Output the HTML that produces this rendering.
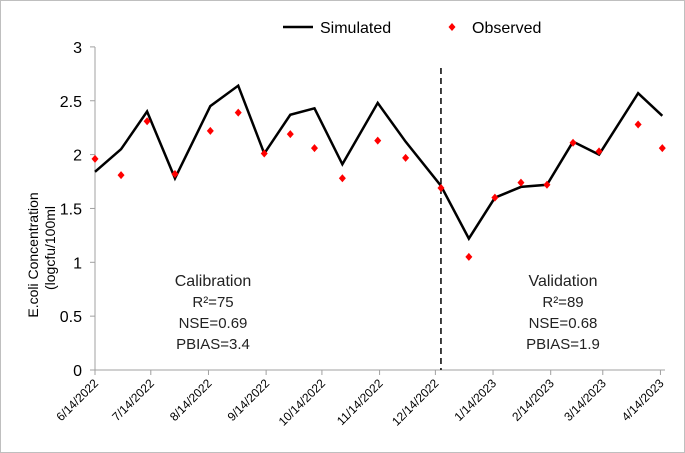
<!DOCTYPE html>
<html><head><meta charset="utf-8"><style>
body{margin:0;background:#fff;}
svg{display:block;font-family:"Liberation Sans",sans-serif;}
</style></head><body>
<svg id="c" width="685" height="453">
<rect x="0.5" y="0.5" width="684" height="452" fill="#fff" stroke="#bfbfbf"/>
</svg>
<script>
const dates=["2022-06-14","2022-06-28","2022-07-12","2022-07-27","2022-08-15","2022-08-30","2022-09-13","2022-09-27","2022-10-10","2022-10-25","2022-11-13","2022-11-28","2022-12-17","2023-01-01","2023-01-15","2023-01-29","2023-02-12","2023-02-26","2023-03-12","2023-04-02","2023-04-15"];
const simulated=[1.84,2.05,2.40,1.78,2.45,2.64,2.01,2.37,2.43,1.91,2.48,2.12,1.71,1.22,1.60,1.70,1.72,2.12,2.00,2.57,2.36];
const observed=[1.96,1.81,2.31,1.82,2.22,2.39,2.01,2.19,2.06,1.78,2.13,1.97,1.69,1.05,1.60,1.74,1.72,2.11,2.03,2.28,2.06];
const yTicks=[0,0.5,1,1.5,2,2.5,3];
const xTicks=["2022-06-14","2022-07-14","2022-08-14","2022-09-14","2022-10-14","2022-11-14","2022-12-14","2023-01-14","2023-02-14","2023-03-14","2023-04-14"];
const splitDate="2022-12-17";

const svg=document.getElementById('c');
const NS="http://www.w3.org/2000/svg";
const t0=Date.parse("2022-06-14"),pxDay=1.86,x0=95;
function X(d){return x0+(Date.parse(d)-t0)/864e5*pxDay;}
function Y(v){return 370-v*107.7;}
function el(tag,attrs,txt){const e=document.createElementNS(NS,tag);for(const k in attrs)e.setAttribute(k,attrs[k]);if(txt!=null)e.textContent=txt;svg.appendChild(e);return e;}
function lbl(d){const p=d.split('-');return (+p[1])+"/"+(+p[2])+"/"+p[0];}

let a=el('line',{x1:95,y1:47,x2:95,y2:370,stroke:'#a0a0a0'});


a=el('line',{x1:95,y1:370,x2:665,y2:370,stroke:'#a0a0a0'});


yTicks.forEach(v=>{
 let t=el('line',{x1:90,y1:Y(v),x2:95,y2:Y(v),stroke:'#a0a0a0'});
 
 
 let l=el('text',{x:82,y:Y(v)+6,'text-anchor':'end','font-size':16,fill:'#000'},String(v));
 
 
});
xTicks.forEach(d=>{
 const x=X(d);
 let t=el('line',{x1:x,y1:370,x2:x,y2:375,stroke:'#a0a0a0'});
 
 
 let l=el('text',{x:x+4,y:384,'text-anchor':'end','font-size':12,transform:`rotate(-45 ${x+4} 384)`},lbl(d));
 
 
});
let yt=el('text',{x:0,y:0,'font-size':14,'text-anchor':'middle',transform:'translate(38,255) rotate(-90)'},"E.coli Concentration");


yt=el('text',{x:0,y:0,'font-size':14,'text-anchor':'middle',transform:'translate(55,248) rotate(-90)'},"(logcfu/100ml");


let sx=X(splitDate);
let sl=el('line',{x1:sx,y1:68,x2:sx,y2:370,stroke:'#000','stroke-width':1.5,'stroke-dasharray':'6,4'});


let pts=dates.map((d,i)=>X(d)+","+Y(simulated[i])).join(" ");
let pl=el('polyline',{points:pts,fill:'none',stroke:'#000','stroke-width':2.5,'stroke-linejoin':'miter'});


dates.forEach((d,i)=>{
 const x=X(d),y=Y(observed[i]);
 let p=el('path',{d:`M${x},${y-4}L${x+3.5},${y}L${x},${y+4}L${x-3.5},${y}Z`,fill:'#ff0000'});
 
 
});
let lg=el('line',{x1:283,y1:27,x2:313,y2:27,stroke:'#000','stroke-width':2.5});


lg=el('text',{x:320,y:33,'font-size':16},"Simulated");


lg=el('path',{d:'M452,23L455.5,27L452,31L448.5,27Z',fill:'#ff0000'});


lg=el('text',{x:472,y:33,'font-size':16},"Observed");


function block(cx,lines,name){
 lines.forEach((s,i)=>{
  let t=el('text',{x:cx,y:286+i*21,'text-anchor':'middle','font-size':i==0?16:15,fill:'#222'},s);
  
  
 });
}
block(213,["Calibration","R²=75","NSE=0.69","PBIAS=3.4"],'calibration-stats');
block(563,["Validation","R²=89","NSE=0.68","PBIAS=1.9"],'validation-stats');
</script>
</body></html>
